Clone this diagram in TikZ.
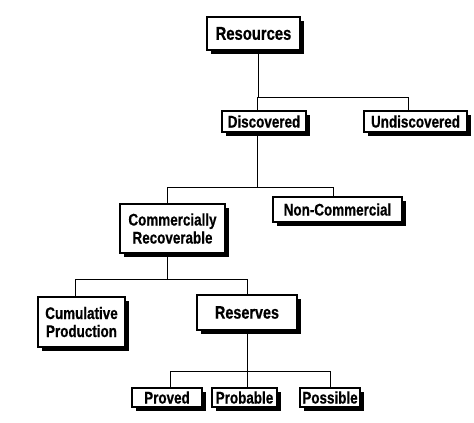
\documentclass[tikz,border=0pt]{standalone}
\usepackage{fontspec}
\newfontfamily\labfont{Liberation Sans}[FakeStretch=0.8,BoldFeatures={FakeBold=0.6}]
\usetikzlibrary{shadows}
\begin{document}
\begin{tikzpicture}[x=1pt,y=-1pt,
  box/.style={draw=black,line width=1.1pt,fill=white,inner sep=0pt,
    font=\labfont\bfseries\fontsize{16.8}{16}\selectfont,align=center,
    drop shadow={shadow xshift=3.5pt,shadow yshift=-3.5pt,fill=black,opacity=1}},
  link/.style={draw=black,line width=0.7pt}]
\useasboundingbox (0,0) rectangle (474,423);
\fill[white] (0,0) rectangle (474,423);
% boxes
\node[box,minimum width=93pt,minimum height=33pt,font=\labfont\bfseries\fontsize{18.5}{19}\selectfont] (res) at (253.5,33.5) {Resources};
\node[box,minimum width=84pt,minimum height=21pt] (disc) at (264,121.5) {Discovered};
\node[box,minimum width=103pt,minimum height=21pt] (undisc) at (415.5,121.5) {Undiscovered};
\node[box,minimum width=105pt,minimum height=49pt] (comm) at (172.5,228.5) {Commercially\\[2pt]Recoverable};
\node[box,minimum width=129pt,minimum height=25pt] (noncomm) at (337.5,209.5) {Non-Commercial};
\node[box,minimum width=87pt,minimum height=50pt] (cum) at (81.5,322) {Cumulative\\[2pt]Production};
\node[box,minimum width=100pt,minimum height=35pt,font=\labfont\bfseries\fontsize{18}{18}\selectfont] (resv) at (247,312.5) {Reserves};
\node[box,minimum width=70pt,minimum height=19pt] (prov) at (167,397.5) {Proved};
\node[box,minimum width=65pt,minimum height=19pt] (prob) at (244.5,397.5) {Probable};
\node[box,minimum width=60pt,minimum height=19pt] (poss) at (330,397.5) {Possible};
% junction points
\coordinate (j1) at (258,97);
\coordinate (j1a) at (257,97);
\coordinate (j1b) at (408,97);
\coordinate (j2) at (257,187);
\coordinate (j2a) at (167,187);
\coordinate (j2b) at (333,187);
\coordinate (j3) at (167,279);
\coordinate (j3a) at (75,279);
\coordinate (j3b) at (247,279);
\coordinate (j4) at (247,371);
\coordinate (j4a) at (170,371);
\coordinate (j4b) at (330,371);
% connectors
\draw[link] (j1 |- res.south) -- (j1);
\draw[link] (j1a) -- (j1b) -- (j1b |- undisc.north);
\draw[link] (j1a) -- (j1a |- disc.north);
\draw[link] (j2 |- disc.south) -- (j2);
\draw[link] (j2a |- comm.north) -- (j2a) -- (j2b) -- (j2b |- noncomm.north);
\draw[link] (j3 |- comm.south) -- (j3);
\draw[link] (j3a |- cum.north) -- (j3a) -- (j3b) -- (j3b |- resv.north);
\draw[link] (j4 |- resv.south) -- (j4);
\draw[link] (j4a |- prov.north) -- (j4a) -- (j4b) -- (j4b |- poss.north);
\draw[link] (j4) -- (j4 |- prob.north);
\end{tikzpicture}
\end{document}
